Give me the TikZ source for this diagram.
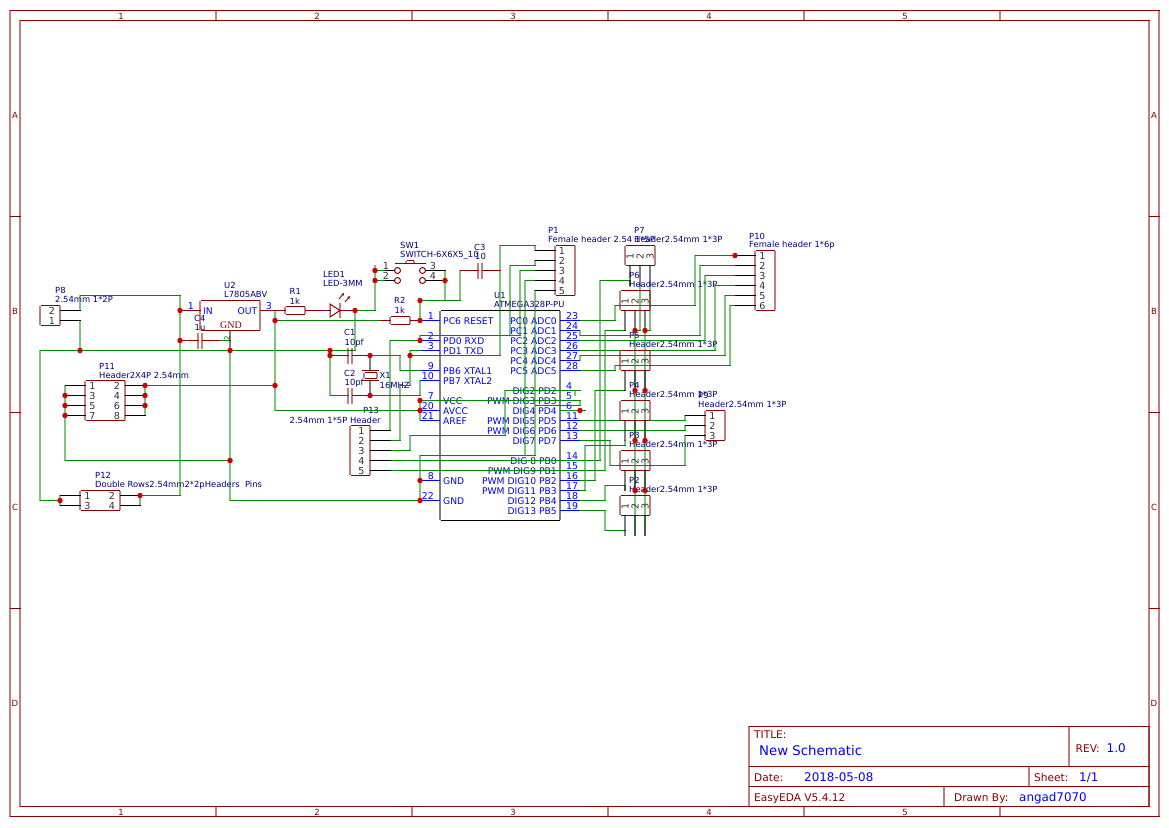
\documentclass[tikz,border=0pt]{standalone}
\usepackage{fontspec}
\usetikzlibrary{arrows.meta,calc}
\setmainfont{DejaVu Sans}
\newfontfamily\gndfont{Liberation Serif}
\definecolor{fr}{HTML}{880000}
\definecolor{wg}{HTML}{008800}
\definecolor{jr}{HTML}{CC0000}
\definecolor{nv}{HTML}{000080}
\definecolor{bl}{HTML}{0000FF}
\definecolor{nm}{HTML}{333333}
\newcommand{\fsz}[1]{\fontsize{#1}{#1}\selectfont}
\tikzset{
 wire/.style={draw=wg,line width=1pt},
 pinb/.style={draw=black,line width=1pt},
 pinr/.style={draw=fr,line width=1pt},
 pinu/.style={draw=bl,line width=1pt},
 sym/.style={draw=fr,line width=1pt},
 hl/.style={shorten <=-.5pt,shorten >=-.5pt},
 vl/.style={line width=2pt,draw opacity=.5,shorten <=-.5pt,shorten >=-.5pt},
 dot/.style={circle,fill=jr,draw=none,minimum size=5.5pt,inner sep=0pt},
 base/.style={inner sep=0pt,text height=7pt,text depth=0pt},
 lab/.style={base,anchor=west,text=nv,font=\fsz{8.4}},
 num/.style={base,anchor=center,text=nm,font=\fsz{9.6}},
 bnl/.style={base,anchor=east,text=bl,font=\fsz{9.4}},
 bnr/.style={base,anchor=west,text=bl,font=\fsz{9.4}},
 btl/.style={base,anchor=west,text=bl,font=\fsz{9.2}},
 btr/.style={base,anchor=east,text=bl,font=\fsz{9.2}},
 frt/.style={base,anchor=center,text=fr,font=\fsz{8.5}},
 tbr/.style={base,anchor=west,text=fr,font=\fsz{10.6}},
 tbb/.style={base,anchor=west,text=bl,font=\fsz{11.9}},
}
% one straight run: a vertical run falls on a pixel seam, so it is two pixels wide and half strong
\newcommand{\seg}[3]{%
 \path let \p1=#2,\p2=#3 in \pgfextra{\pgfmathparse{abs(\x1-\x2)<0.01?1:0}\ifdim\pgfmathresult pt>0.5pt \gdef\segopt{vl}\else\gdef\segopt{hl}\fi};
 \draw[#1,\segopt] #2 -- #3;}
\newcommand{\W}[3]{\xdef\wprev{#2}\foreach \pb in {#3}{\edef\wtmp{\noexpand\seg{#1}{\wprev}{\pb}}\wtmp\xdef\wprev{\pb}}}
\newcommand{\bx}[5]{%
 \draw[#1,hl] (#2+1,#3) -- (#4-1,#3);
 \draw[#1,hl] (#2+1,#5) -- (#4-1,#5);
 \draw[#1,vl] (#2,#3+1) -- (#2,#5-1);
 \draw[#1,vl] (#4,#3+1) -- (#4,#5-1);}
\begin{document}
\begin{tikzpicture}[x=1pt,y=-1pt]
\useasboundingbox (0,0) rectangle (1169,827);
\fill[white] (0,0) rectangle (1169,827);
% frame
\W{sym}{(10,10.5)}{(1159,10.5),(1159,816.5),(10,816.5),(10,10.5)}
\W{sym}{(20,20.5)}{(1149,20.5),(1149,806.5),(20,806.5),(20,20.5)}
\foreach \x in {216,412,608,804,1000} {
  \W{sym}{(\x,10.5)}{(\x,20.5)}
  \W{sym}{(\x,806.5)}{(\x,816.5)}
}
\foreach \y in {216.5,412.5,608.5} {
  \W{sym}{(10,\y)}{(20,\y)}
  \W{sym}{(1149,\y)}{(1159,\y)}
}
\foreach \t/\x in {1/118,2/314,3/510,4/706,5/902} {
  \node[frt] (ct\t) at (\x+3,15.5) {\t};
  \node[frt] (cb\t) at (\x+3,811.5) {\t};
}
\foreach \t/\y in {A/115,B/311,C/507,D/703} {
  \node[frt] (rl\t) at (15,\y) {\t};
  \node[frt] (rr\t) at (1154,\y) {\t};
}
% title block
\W{sym}{(749,726.5)}{(1149,726.5),(1149,806.5),(749,806.5),(749,726.5)}
\W{sym}{(749,766.5)}{(1149,766.5)}
\W{sym}{(749,786.5)}{(1149,786.5)}
\W{sym}{(1069,726.5)}{(1069,766.5)}
\W{sym}{(1029,766.5)}{(1029,786.5)}
\W{sym}{(944,786.5)}{(944,806.5)}
\node[tbr] (tTitle) at (754,735) {TITLE:};
\node[tbb,font=\fsz{13.3}] (tName) at (759,752) {New Schematic};
\node[tbr] (tRev) at (1075.5,749) {REV:};
\node[tbb,font=\fsz{12}] (tRevV) at (1106.5,749) {1.0};
\node[tbr] (tDate) at (754,777.5) {Date:};
\node[tbb] (tDateV) at (804,777.5) {2018-05-08};
\node[tbr] (tSheet) at (1034,777.5) {Sheet:};
\node[tbb] (tSheetV) at (1079,777.5) {1/1};
\node[tbr] (tEda) at (754,797.5) {EasyEDA V5.4.12};
\node[tbr] (tDrawn) at (954,797.5) {Drawn By:};
\node[tbb] (tDrawnV) at (1019,797.5) {angad7070};
% part labels
\foreach \id/\x/\y/\t in {
 a1/55/290/P8, a2/55/299/2.54mm 1*2P,
 a3/224/285/U2, a4/224/294/L7805ABV,
 a5/194/318/C4, a6/194.5/327/1u,
 a7/289.5/291/R1, a8/289.5/300.5/1k,
 a9/323/274/LED1, a10/323/283/LED-3MM,
 a11/394/300/R2, a12/394.5/310/1k,
 a13/400/245/SW1, a14/400/254/SWITCH-6X6X5\_10,
 a15/474/247/C3, a16/475/256/10,
 a17/344/332/C1, a18/344.5/342/10pf,
 a19/344/372.5/C2, a20/344.5/382/10pf,
 a21/379.5/375/X1, a22/379.5/384.5/16MHZ,
 a23/99/366/P11, a24/99/375/Header2X4P 2.54mm,
 a25/363/410/P13, a26/289.5/420/2.54mm 1*5P Header,
 a27/95/475/P12, a28/95/484/Double Rows2.54mm2*2pHeaders\ \ Pins,
 a29/494/295/U1, a30/494/304/ATMEGA328P-PU,
 a31/548/230/P1, a32/548/239/Female header 2.54 1*5P,
 a33/634/230/P7, a34/634/239/Header2.54mm 1*3P,
 a35/629/275/P6, a36/629/284/Header2.54mm 1*3P,
 a37/629/335/P5, a38/629/344/Header2.54mm 1*3P,
 a39/629/385/P4, a40/629/394/Header2.54mm 1*3P,
 a41/698/395/P9, a42/698/404/Header2.54mm 1*3P,
 a43/629/435/P3, a44/629/444/Header2.54mm 1*3P,
 a45/629/480/P2, a46/629/489/Header2.54mm 1*3P,
 a47/749/236/P10, a48/749/244/Female header 1*6p} {
  \node[lab] (\id) at (\x,\y) {\t};
}
% U1 text
\foreach \n/\y/\t in {1/320.5/PC6 RESET,2/340.5/PD0 RXD,3/350.5/PD1 TXD,9/370.5/PB6 XTAL1,10/380.5/PB7 XTAL2,7/400.5/VCC,20/410.5/AVCC,21/420.5/AREF,8/480.5/GND,22/500.5/GND} {
  \coordinate (UL\n) at (420,\y);
  \node[bnl] (nl\n) at (434,\y-5) {\n};
  \node[btl] (tl\n) at (443,\y) {\t};
}
\foreach \n/\y/\t in {23/320.5/PC0 ADC0,24/330.5/PC1 ADC1,25/340.5/PC2 ADC2,26/350.5/PC3 ADC3,27/360.5/PC4 ADC4,28/370.5/PC5 ADC5,4/390.5/DIG2 PD2,5/400.5/PWM DIG3 PD3,6/410.5/DIG4 PD4,11/420.5/PWM DIG5 PD5,12/430.5/PWM DIG6 PD6,13/440.5/DIG7 PD7,14/460.5/DIG 8 PB0,15/470.5/PWM DIG9 PB1,16/480.5/PWM DIG10 PB2,17/490.5/PWM DIG11 PB3,18/500.5/DIG12 PB4,19/510.5/DIG13 PB5} {
  \coordinate (UR\n) at (580,\y);
  \node[bnr] (nr\n) at (566,\y-5) {\n};
  \node[btr] (tr\n) at (557,\y) {\t};
}
% U2 text
\node[bnl] (u2n1) at (194,306) {1};
\node[bnl] (u2n3) at (272,306) {3};
\node[btl] (u2in) at (203,310.5) {IN};
\node[btr] (u2out) at (257.5,310.5) {OUT};
\node[base,anchor=center,text=fr,font=\gndfont\fsz{10}] (u2gnd) at (231,325) {GND};
\node[base,anchor=center,text=nm,font=\fsz{7},rotate=90] (c4n2) at (226,338.5) {2};
% connector pin names
\coordinate (P8p2) at (80,310.5);
\coordinate (P8p1) at (80,320.5);
\coordinate (P12p1) at (60,495.5);
\coordinate (P12p3) at (60,505.5);
\coordinate (P12p2) at (140,495.5);
\coordinate (P12p4) at (140,505.5);
\foreach \n/\y in {1/430.5,2/440.5,3/450.5,4/460.5,5/470.5} {
  \coordinate (P13p\n) at (390,\y);
}
\foreach \n/\y in {1/250.5,2/260.5,3/270.5,4/280.5,5/290.5} {
  \coordinate (P1p\n) at (535,\y);
  \node[num] (p1n\n) at (562,\y) {\n};
}
\foreach \n/\y in {1/255.5,2/265.5,3/275.5,4/285.5,5/295.5,6/305.5} {
  \coordinate (P10p\n) at (735,\y);
  \node[num] (p10n\n) at (762.5,\y) {\n};
}
\foreach \n/\y in {1/415.5,2/425.5,3/435.5} {
  \coordinate (P9p\n) at (685,\y);
  \node[num] (p9n\n) at (712.5,\y) {\n};
}
\foreach \n/\y in {2/310.5,1/320.5} {\node[num] (p8n\n) at (52,\y) {\n};}
\foreach \a/\b/\y in {1/2/385.5,3/4/395.5,5/6/405.5,7/8/415.5} {
  \node[num] (p11n\a) at (92.5,\y) {\a};
  \node[num] (p11n\b) at (117,\y) {\b};
}
\foreach \a/\b/\y in {1/2/495.5,3/4/505.5} {
  \node[num] (p12n\a) at (87.5,\y) {\a};
  \node[num] (p12n\b) at (112,\y) {\b};
}
\node[num] (sw1) at (386,266) {1};
\node[num] (sw2) at (386,276) {2};
\node[num] (sw3) at (433,266) {3};
\node[num] (sw4) at (433,276) {4};
% U1 blue pins and body
\bx{pinb}{440}{310.5}{560}{520.5}
\foreach \y in {320.5,340.5,350.5,370.5,380.5,400.5,410.5,420.5,480.5,500.5} {\draw[pinu] (420,\y) -- (440,\y);}
\foreach \y in {320.5,330.5,340.5,350.5,360.5,370.5,390.5,400.5,410.5,420.5,430.5,440.5,460.5,470.5,480.5,490.5,500.5,510.5} {\draw[pinu] (560,\y) -- (580,\y);}
% wires
\W{wire}{(P8p2)}{(80,295.5),(180,295.5),(180,495.5),(P12p2)}
\W{wire}{(P8p1)}{(80,350.5)}
\W{wire}{(P12p1)}{(P12p3)}
\W{wire}{(P12p2)}{(P12p4)}
\W{wire}{(60,500.5)}{(40,500.5),(40,350.5),(355,350.5),(355,310.5),(375,310.5),(375,265.5)}
\W{wire}{(145,385.5)}{(145,415.5)}
\W{wire}{(145,385.5)}{(275,385.5)}
\W{wire}{(65,385.5)}{(65,460.5),(230,460.5)}
\W{wire}{(230,350.5)}{(230,500.5),(UL22)}
\W{wire}{(220,340.5)}{(230,340.5)}
\W{wire}{(275,310.5)}{(275,410.5),(UL20)}
\W{wire}{(275,320.5)}{(380,320.5)}
\W{wire}{(375,270.5)}{(385,270.5)}
\W{wire}{(375,280.5)}{(385,280.5)}
\W{wire}{(445,270.5)}{(445,300.5)}
\W{wire}{(UL1)}{(420,300.5),(460,300.5),(460,270.5)}
\W{wire}{(330,350.5)}{(330,395.5),(348,395.5)}
\W{wire}{(370,395.5)}{(420,395.5),(UL10)}
\W{wire}{(370,355.5)}{(400,355.5),(400,370.5),(UL9)}
\W{wire}{(P13p2)}{(400,440.5),(400,385.5),(410,385.5),(410,350.5),(UL3)}
\W{wire}{(410,355.5)}{(500,355.5),(500,245.5),(535,245.5),(P1p1)}
\W{wire}{(P13p1)}{(390,340.5),(UL2)}
\W{wire}{(UL2)}{(420,335.5),(520,335.5),(520,270.5),(P1p3)}
\W{wire}{(510,335.5)}{(510,265.5),(535,265.5),(P1p2)}
\W{wire}{(P1p4)}{(525,280.5),(525,455.5)}
\W{wire}{(P1p5)}{(535,455.5),(420,455.5),(UL22)}
\W{wire}{(P13p3)}{(410,450.5),(410,435.5),(505,435.5),(505,390.5),(UR4)}
\W{wire}{(UL7)}{(UR5),(580,405.5),(535,405.5)}
\W{wire}{(UL7)}{(UL21)}
\W{wire}{(575,390.5)}{(575,395.5)}
\W{wire}{(560,410.5)}{(585,410.5)}
\W{wire}{(P13p4)}{(600,460.5),(600,280.5),(630,280.5),(630,285.5)}
\W{wire}{(P13p5)}{(605,470.5),(605,330.5),(625,330.5)}
\W{wire}{(UR23)}{(615,320.5),(615,305.5),(695,305.5),(695,255.5),(P10p1)}
\W{wire}{(UR24)}{(580,335.5),(700,335.5),(700,265.5),(P10p2)}
\W{wire}{(UR25)}{(705,340.5),(705,275.5),(P10p3)}
\W{wire}{(UR26)}{(715,350.5),(715,285.5),(P10p4)}
\W{wire}{(UR27)}{(580,355.5),(725,355.5),(725,295.5),(P10p5)}
\W{wire}{(UR28)}{(615,370.5),(615,365.5),(730,365.5),(730,305.5),(P10p6)}
\W{wire}{(UR11)}{(685,420.5),(P9p1)}
\W{wire}{(UR12)}{(685,430.5),(P9p2)}
\W{wire}{(UR13)}{(610,440.5),(610,465.5),(685,465.5),(P9p3)}
\W{wire}{(UR16)}{(595,480.5),(595,390.5),(625,390.5)}
\W{wire}{(UR17)}{(585,490.5),(585,445.5),(625,445.5),(625,440.5)}
\W{wire}{(UR18)}{(605,500.5),(605,485.5),(625,485.5),(625,490.5)}
\W{wire}{(UR19)}{(605,510.5),(605,530.5),(625,530.5)}
\W{wire}{(640,285.5)}{(640,330.5),(635,330.5),(635,535.5)}
\W{wire}{(650,285.5)}{(650,330.5),(645,330.5),(645,535.5)}
% connector boxes and black pins
\bx{sym}{40}{305.5}{60}{325.5}
\W{pinb}{(60,310.5)}{(P8p2)}
\W{pinb}{(60,320.5)}{(P8p1)}
\bx{sym}{85}{380.5}{125}{420.5}
\foreach \y in {385.5,395.5,405.5,415.5} {
  \W{pinb}{(65,\y)}{(85,\y)}
  \W{pinb}{(125,\y)}{(145,\y)}
}
\bx{sym}{80}{490.5}{120}{510.5}
\foreach \y in {495.5,505.5} {
  \W{pinb}{(60,\y)}{(80,\y)}
  \W{pinb}{(120,\y)}{(140,\y)}
}
\bx{sym}{350}{425.5}{370}{475.5}
\foreach \n/\y in {1/430.5,2/440.5,3/450.5,4/460.5,5/470.5} {
  \W{pinb}{(370,\y)}{(P13p\n)}
  \node[num] (p13n\n) at (361.5,\y) {\n};
}
\bx{sym}{555}{245.5}{575}{295.5}
\foreach \n in {1,2,3,4,5} {\W{pinb}{(P1p\n)}{(555,240.5+10*\n)}}
\bx{sym}{755}{250.5}{775}{310.5}
\foreach \n in {1,2,3,4,5,6} {\W{pinb}{(P10p\n)}{(755,245.5+10*\n)}}
\bx{sym}{705}{410.5}{725}{440.5}
\foreach \n in {1,2,3} {\W{pinb}{(P9p\n)}{(705,405.5+10*\n)}}
% vertical headers
\foreach \h/\t in {P6/290.5,P5/350.5,P4/400.5,P3/450.5,P2/495.5} {
  \bx{sym}{620}{\t}{650}{\t+20}
  \foreach \n/\x in {1/625,2/635,3/645} {
    \W{pinb}{(\x,\t+20)}{(\x,\t+40)}
    \node[num,rotate=90] (\h n\n) at (\x,\t+11) {\n};
  }
}
\bx{sym}{625}{245.5}{655}{265.5}
\foreach \n/\x in {1/630,2/640,3/650} {
  \W{pinb}{(\x,265.5)}{(\x,285.5)}
  \node[num,rotate=90] (P7n\n) at (\x,256.5) {\n};
}
% U2
\bx{sym}{200}{300.5}{260}{330.5}
\W{pinr}{(180,310.5)}{(200,310.5)}
\W{pinr}{(260,310.5)}{(285,310.5)}
\W{pinb}{(230,330.5)}{(230,350.5)}
% C4
\W{pinr}{(180,340.5)}{(198,340.5)}
\W{pinr}{(202,340.5)}{(220,340.5)}
\W{sym}{(198,333.5)}{(198,348.5)}
\W{sym}{(202,333.5)}{(202,348.5)}
% R1, LED
\bx{sym}{285}{306.5}{305}{314.5}
\W{pinr}{(305,310.5)}{(330,310.5)}
\draw[sym] (330,304) -- (330,317) -- (340,310.5) -- cycle;
\W{sym}{(340,303.5)}{(340,317.5)}
\W{pinr}{(340,310.5)}{(355,310.5)}
\draw[sym,line width=.9pt,-{Stealth[length=3pt,width=3pt]}] (339,299) -- (344,293);
\draw[sym,line width=.9pt,-{Stealth[length=3pt,width=3pt]}] (345,302) -- (350,296);
% R2
\W{pinr}{(380,320.5)}{(390,320.5)}
\bx{sym}{390}{316.5}{410}{324.5}
\W{pinr}{(410,320.5)}{(420,320.5)}
% C1 C2 X1
\W{pinr}{(330,355.5)}{(348,355.5)}
\W{pinr}{(352,355.5)}{(370,355.5)}
\W{sym}{(348,348.5)}{(348,363.5)}
\W{sym}{(352,348.5)}{(352,363.5)}
\W{sym}{(348,388.5)}{(348,403.5)}
\W{sym}{(352,388.5)}{(352,403.5)}
\W{pinr}{(352,395.5)}{(370,395.5)}
\bx{sym}{364}{372.5}{377}{378.5}
\W{sym}{(362,370.5)}{(378,370.5)}
\W{sym}{(362,380.5)}{(378,380.5)}
\W{pinb}{(370,355.5)}{(370,370.5)}
\W{pinb}{(370,380.5)}{(370,395.5)}
% C3
\W{pinr}{(460,270.5)}{(478,270.5)}
\W{pinr}{(482,270.5)}{(500,270.5)}
\W{sym}{(478,263.5)}{(478,278.5)}
\W{sym}{(482,263.5)}{(482,278.5)}
% SW1
\W{sym}{(395,263.5)}{(425,263.5)}
\bx{sym}{406}{260.5}{414}{263.5}
\foreach \x/\y in {397.5/270.5,397.5/280.5,422.5/270.5,422.5/280.5} {
  \draw[sym] (\x,\y) circle (3);
}
\W{pinb}{(385,270.5)}{(394.5,270.5)}
\W{pinb}{(385,280.5)}{(394.5,280.5)}
\W{pinb}{(425.5,270.5)}{(445,270.5)}
\W{pinb}{(425.5,280.5)}{(445,280.5)}
% junctions
\foreach \i/\x/\y in {j1/180/310.5,j2/180/340.5,j3/80/350.5,j4/230/350.5,j5/275/320.5,j6/275/385.5,j7/65/395.5,j8/65/405.5,j9/65/415.5,j10/145/385.5,j11/145/395.5,j12/145/405.5,j13/230/460.5,j14/60/500.5,j15/140/495.5,j16/355/310.5,j17/375/270.5,j18/375/280.5,j19/445/280.5,j20/420/300.5,j21/420/320.5,j22/420/340.5,j23/330/350.5,j24/330/355.5,j25/370/355.5,j26/410/355.5,j27/370/395.5,j28/420/400.5,j29/420/410.5,j30/420/480.5,j31/420/500.5,j32/580/410.5,j33/735/255.5,j34/635/330.5,j35/645/330.5,j36/635/390.5,j37/645/390.5,j38/635/440.5,j39/645/440.5,j40/635/490.5,j41/645/490.5} {
  \node[dot] (\i) at (\x,\y) {};
}
\end{tikzpicture}
\end{document}
